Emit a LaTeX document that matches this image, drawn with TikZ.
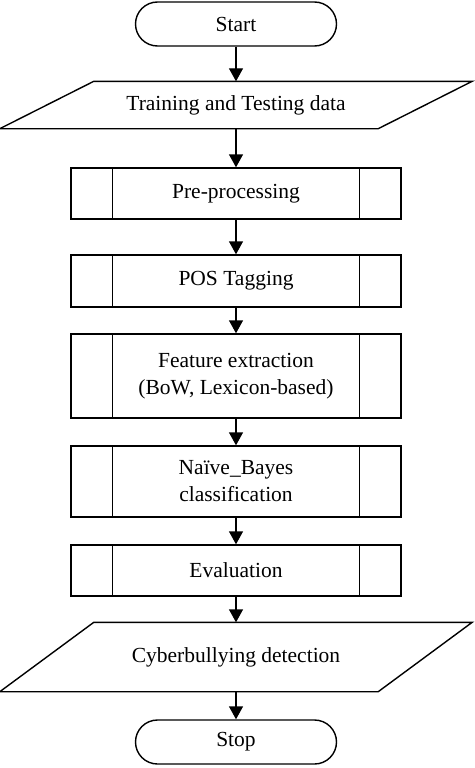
\documentclass[tikz,border=0pt]{standalone}
\usepackage{fontspec}
\setmainfont{Liberation Serif}
\usetikzlibrary{arrows.meta}

\begin{document}
\begin{tikzpicture}[x=1pt, y=-1pt, >={Triangle[width=14pt,length=13pt]}, line width=1.4pt,
  every node/.style={font=\fontsize{21.5}{27}\selectfont, align=center},
  term/.style={draw, rounded corners=22pt, minimum width=201pt, minimum height=44pt},
  io/.style={minimum width=471pt, inner sep=0pt},
  proc/.style={draw, minimum width=330pt, inner sep=0pt}]
\useasboundingbox (0,0) rectangle (474,768);
%start
\node[term] (start) at (236,24) {Start};
%input data
\node[io, minimum height=46pt] (data) at (236,105) {Training and Testing data};
%processes
\node[proc, minimum height=51pt] (pre) at (236,193.5) {Pre-processing};
\node[proc, minimum height=52pt] (pos) at (236,281) {POS Tagging};
\node[proc, minimum height=84pt] (feat) at (236,376) {Feature extraction\\(BoW, Lexicon-based)};
\node[proc, minimum height=71pt] (nb) at (236,481.5) {Naïve\_Bayes\\classification};
\node[proc, minimum height=51pt] (eval) at (236,570.5) {Evaluation};
%output
\node[io, minimum height=68pt] (det) at (236,657) {Cyberbullying detection};
%stop
\node[term] (stop) at (236,742) {Stop};
%side bars of the processes
\foreach \n in {pre,pos,feat,nb,eval}
{
  \draw ([xshift=42pt]\n.north west) -- ([xshift=42pt]\n.south west);
  \draw ([xshift=-42pt]\n.north east) -- ([xshift=-42pt]\n.south east);
}
%slanted in/out boxes
\foreach \n in {data,det}
{
  \draw ([xshift=94pt]\n.north west) -- (\n.north east) -- ([xshift=-94pt]\n.south east) -- (\n.south west) -- cycle;
}
%flow arrows
\foreach \a/\b in {start/data,data/pre,pre/pos,pos/feat,feat/nb,nb/eval,eval/det,det/stop}
{
  \draw[->] (\a) -- (\b);
}
\end{tikzpicture}
\end{document}
